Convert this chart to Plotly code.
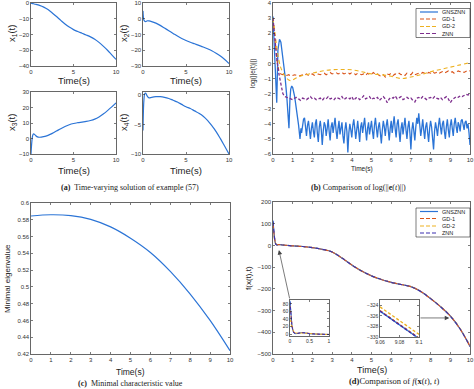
import numpy as np
import plotly.graph_objects as go

# ---------------- DATA ----------------
# Panel (a): time-varying solution components
ta = [0, 0.1, 0.2, 0.3, 0.5, 0.7, 1, 1.5, 2, 2.5, 3, 3.5, 4, 4.5, 5, 5.5, 6, 6.5, 7, 7.5, 8, 8.5, 9, 9.5, 10]
x1 = [0, -0.2, -0.4, -0.5, -0.8, -1.0, -1.5, -2.6, -4.2, -6.3, -8.6, -11.0, -13.3, -15.3, -16.9, -18.1, -19.2, -20.3, -21.5, -23.0, -25.0, -27.4, -30.0, -32.9, -35.8]
x2 = [5.0, -0.8, -1.6, -1.8, -1.3, -1.4, -1.8, -2.8, -4.2, -5.9, -7.6, -9.3, -11.0, -12.5, -13.8, -14.9, -15.9, -16.9, -17.9, -19.0, -20.3, -21.9, -23.7, -25.9, -28.4]
x3 = [-10.0, -2.0, 2.0, 3.0, 2.2, 1.2, 0.8, 1.2, 2.0, 3.3, 4.8, 6.3, 7.7, 8.9, 9.7, 10.2, 10.6, 11.0, 11.6, 12.5, 13.9, 15.8, 18.0, 20.4, 23.0]
x4 = [-6.0, -1.0, 0.2, 0.3, -0.2, -0.5, -0.4, -0.3, -0.3, -0.4, -0.6, -0.9, -1.2, -1.6, -2.0, -2.3, -2.7, -3.1, -3.6, -4.3, -5.2, -6.2, -7.4, -8.7, -10.0]

# Panel (b): log(||e(t)||)
tb_g0 = [0, 0.05, 0.1, 0.15, 0.19, 0.25, 0.33, 0.4, 0.5, 0.6, 0.7, 0.81, 0.86, 0.9, 0.95, 1.0, 1.1, 1.2, 1.3, 1.37, 1.42]
gn_0 = [3.1, 1.6, -0.4, -2.0, -2.6, 0.9, 1.6, 1.4, 0.5, -0.7, -2.2, -4.3, -2.4, -1.7, -1.5, -1.6, -2.2, -3.0, -4.1, -5.0, -4.3]
gn_noise = [-4.6, -4.0, -3.7, -3.6, -4.2, -4.8, -4.1, -3.8, -4.4, -5.0, -4.3,
            -3.9, -4.5, -4.9, -4.0, -3.7, -4.6, -5.2, -4.2, -3.8, -4.4, -5.4, -4.5, -3.9, -4.1, -4.8, -4.3, -3.7, -4.5, -5.1, -4.2,
            -3.9, -4.6, -4.1, -3.6, -4.4, -5.0, -4.3, -3.8, -4.7, -4.2, -3.9, -4.8, -5.3, -4.4, -3.9, -4.5, -5.9, -4.6, -4.0, -4.4,
            -4.9, -4.1, -3.7, -4.3, -5.0, -4.4, -3.8, -4.5, -5.2, -4.2, -3.9, -4.6, -4.0, -3.6, -4.4, -5.1, -4.3, -3.9, -4.7, -4.2,
            -3.8, -4.5, -5.0, -4.1, -3.6, -4.3, -4.9, -4.2, -3.9, -4.6, -5.3, -4.4, -3.8, -4.2, -4.8, -4.1, -3.7, -4.4, -5.1, -4.3,
            -3.8, -4.6, -4.1, -3.5, -4.3, -4.9, -4.0, -3.7, -4.5, -5.2, -4.3, -3.9, -4.7, -4.1, -3.6, -4.4, -5.0, -4.2, -3.8, -4.6,
            -5.7, -4.4, -3.9, -4.5, -5.1, -4.2, -3.6, -4.0, -3.3, -4.1, -4.8, -4.3, -3.7, -4.4, -5.0, -4.2, -3.9, -4.6, -5.2, -4.3,
            -3.8, -4.2, -4.9, -5.7, -4.5, -3.9, -4.3, -4.8, -4.1, -3.6, -4.2, -4.7, -4.0, -3.8, -4.5, -5.0, -4.2, -3.7, -4.4, -4.9,
            -4.1, -3.7, -4.3, -4.8, -4.0, -3.6, -4.2, -4.6, -3.9, -4.1, -4.5, -3.8, -3.7, -4.2, -4.4, -3.9, -3.8, -4.3, -4.0, -4.6, -5.4]

tb_z0 = [0, 0.1, 0.2, 0.3, 0.4, 0.5, 0.6, 0.7, 0.8]
znn_0 = [3.0, 1.5, 0.2, -0.7, -1.5, -2.0, -2.2, -2.25, -2.3]
znn_noise = [-2.35, -2.4, -2.3, -2.25, -2.35, -2.45, -2.3, -2.35, -2.4, -2.3,
             -2.2, -2.35, -2.3, -2.4, -2.35, -2.3, -2.45, -2.3, -2.35, -2.2,
             -2.35, -2.3, -2.4, -2.25, -2.3, -2.35, -2.2, -2.4, -2.3, -2.25,
             -2.35, -2.2, -2.45, -2.3, -2.25, -2.4, -2.3, -2.15, -2.35, -2.3,
             -2.2, -2.4, -2.3, -2.35, -2.25, -2.45, -2.3, -2.2, -2.35, -2.6,
             -2.35, -2.25, -2.3, -2.15, -2.35, -2.3, -2.2, -2.4, -2.3, -2.25,
             -2.35, -2.3, -2.45, -2.55, -2.3, -2.25, -2.35, -2.2, -2.3, -2.4,
             -2.3, -2.25, -2.35, -2.2, -2.3, -2.35, -2.25, -2.4, -2.3, -2.2,
             -2.35, -2.6, -2.4, -2.3, -2.2, -2.25, -2.15, -2.2, -2.1, -2.05,
             -2.1, -2.0]

tb_d0 = [0, 0.1, 0.2, 0.3, 0.4]
gd1_0 = [3.0, 1.5, 0.2, -0.5, -0.7]
gd1_noise = [-0.75, -0.7, -0.8, -0.75, -0.85, -0.8, -0.75, -0.8, -0.85, -0.8,
             -0.75, -0.8, -0.7, -0.8, -0.75, -0.7, -0.8, -0.75, -0.7, -0.75,
             -0.7, -0.65, -0.75, -0.7, -0.6, -0.7, -0.65, -0.6, -0.7, -0.65,
             -0.6, -0.7, -0.65, -0.6, -0.7, -0.6, -0.65, -0.75, -0.65, -0.7,
             -0.75, -0.7, -0.8, -0.65, -0.75, -0.7, -0.6, -0.75, -0.7, -0.8,
             -0.85, -0.75, -0.9, -0.7, -0.75, -0.65, -0.8, -0.7, -0.75, -0.65,
             -0.75, -0.7, -0.8, -0.65, -0.7, -0.75, -0.6, -0.75, -0.7, -0.65,
             -0.7, -0.6, -0.65, -0.7, -0.6, -0.65, -0.55, -0.65, -0.6, -0.7,
             -0.6, -0.55, -0.65, -0.6, -0.5, -0.6, -0.55, -0.65, -0.55, -0.5,
             -0.55, -0.5, -0.6, -0.5, -0.45, -0.5]

tb_gd2 = [0, 0.1, 0.2, 0.3, 0.4, 0.5, 0.6, 0.7, 0.8, 0.9, 1.0, 1.2, 1.5, 2, 2.5, 3, 3.5, 4, 4.5, 5, 5.5, 6, 6.5, 7, 7.5, 8, 8.5, 9, 9.5, 10]
gd2 = [3.0, 2.0, 1.0, 0.2, -0.3, -0.6, -0.85, -1.0, -1.1, -1.15, -1.1, -0.95, -0.8, -0.65, -0.5, -0.42, -0.4, -0.42, -0.55, -0.7, -0.75, -0.85, -1.0, -0.9, -0.75, -0.55, -0.4, -0.25, -0.1, 0.05]

# Panel (c): minimal eigenvalue
tc = [0, 1, 2, 3, 4, 5, 6, 7, 8, 9, 10]
eig = [0.5845, 0.586, 0.585, 0.5805, 0.5715, 0.558, 0.541, 0.5185, 0.4915, 0.46, 0.424]

# Panel (d): f(x(t),t)
td = [0, 0.05, 0.1, 0.15, 0.2, 0.3, 0.5, 1, 1.5, 2, 2.5, 3, 3.5, 4, 4.5, 5, 5.5, 6, 6.5, 7, 7.5, 8, 8.5, 9, 9.5, 10]
f_gnszNN = [115, 60, 20, 5, 2, 4, 2, -2, -5, -10, -18, -30, -58, -90, -118, -140, -157, -170, -180, -190, -212, -245, -282, -325, -385, -465]
f_gd1 = [100, 55, 22, 6, 3, 4, 2, -2, -5, -10, -18, -30, -58, -90, -118, -140, -157, -170, -180, -190, -212, -245, -282, -325, -385, -465]
f_gd2 = [80, 45, 18, 7, 4, 4, 2, -2, -5, -10, -18, -30, -58, -90, -118, -140, -157, -170, -180, -190, -212, -244, -281, -324, -384, -464]
f_znn = [110, 58, 20, 5, 2, 4, 2, -2, -5, -10, -18, -30, -58, -90, -118, -140, -157, -170, -180, -190, -212, -245, -282, -325, -385, -465]

# Inset 1 (zoom on t in [0,1])
ti1 = [0, 0.02, 0.05, 0.08, 0.1, 0.15, 0.2, 0.3, 0.4, 0.5, 0.7, 1.0]
i1_gnszNN = [88, 55, 22, 8, 3, 1, 2, 4, 3, 1, 0, -1]
i1_gd1 = [75, 50, 25, 10, 5, 2, 2, 4, 3, 1, 0, -1]
i1_gd2 = [40, 30, 18, 10, 6, 3, 2, 3, 2, 1, 0, -1]
i1_znn = [85, 52, 20, 7, 3, 1, 2, 4, 3, 1, 0, -1]

# Inset 2 (zoom on t in [9.06, 9.1])
ti2 = [9.06, 9.1]
i2_gnszNN = [-325.1, -330.3]
i2_gd1 = [-325.0, -330.2]
i2_gd2 = [-324.3, -329.5]
i2_znn = [-325.1, -330.3]

legend_names = ['GNSZNN', 'GD-1', 'GD-2', 'ZNN']

# ---------------- STYLE ----------------
W, H = 474, 389
BLUE = '#2b74d6'
RED = '#D95319'
ORANGE = '#EDB120'
PURPLE = '#7E2F8E'
NAVY = '#3a2fb0'
AX = '#262626'
SANS = 'Liberation Sans, Arial, sans-serif'
SERIF = 'Liberation Serif, Times New Roman, serif'


def px(x0, x1):
    return [x0 / W, x1 / W]


def py(ytop, ybot):
    return [1 - ybot / H, 1 - ytop / H]


def axstyle(domain, rng, tickvals, ticktext=None, size=6.5, anchor=None):
    d = dict(domain=domain, range=rng, tickvals=tickvals, showline=True, linecolor=AX,
             linewidth=0.7, mirror='ticks', ticks='inside', ticklen=2, tickwidth=0.6,
             tickcolor=AX, showgrid=False, zeroline=False, automargin=False,
             tickfont=dict(family=SANS, size=size, color='#333333'), anchor=anchor)
    if ticktext is not None:
        d['ticktext'] = ticktext
    return d


fig = go.Figure()

# ---- panel a ----
for i, yy in enumerate([x1, x2, x3, x4]):
    n = i + 1
    fig.add_trace(go.Scatter(x=ta, y=yy, mode='lines', line=dict(color=BLUE, width=1.2, shape='spline'),
                             xaxis='x%d' % n, yaxis='y%d' % n, showlegend=False))

# ---- panel b ----
tb_g = list(tb_g0) + list(np.linspace(1.45, 10, len(gn_noise)))
gn = gn_0 + gn_noise
tb_z = list(tb_z0) + list(np.linspace(0.9, 10, len(znn_noise)))
zn = znn_0 + znn_noise
tb_d = list(tb_d0) + list(np.linspace(0.5, 10, len(gd1_noise)))
g1 = gd1_0 + gd1_noise

fig.add_trace(go.Scatter(x=tb_g, y=gn, mode='lines', line=dict(color=BLUE, width=1.3),
                         xaxis='x5', yaxis='y5', showlegend=False))
fig.add_trace(go.Scatter(x=tb_d, y=g1, mode='lines', line=dict(color=RED, width=1.1, dash='4px,3px'),
                         xaxis='x5', yaxis='y5', showlegend=False))
fig.add_trace(go.Scatter(x=tb_gd2, y=gd2, mode='lines', line=dict(color=ORANGE, width=1.1, dash='4px,3px', shape='spline'),
                         xaxis='x5', yaxis='y5', showlegend=False))
fig.add_trace(go.Scatter(x=tb_z, y=zn, mode='lines', line=dict(color=PURPLE, width=1.3, dash='3px,2px'),
                         xaxis='x5', yaxis='y5', showlegend=False))

# ---- panel c ----
fig.add_trace(go.Scatter(x=tc, y=eig, mode='lines', line=dict(color=BLUE, width=1.2, shape='spline'),
                         xaxis='x6', yaxis='y6', showlegend=False))

# ---- panel d ----
for yy, col, dash in [(f_gnszNN, BLUE, 'solid'), (f_gd1, RED, '4px,3px'),
                      (f_gd2, ORANGE, '4px,3px'), (f_znn, NAVY, '4px,3px')]:
    fig.add_trace(go.Scatter(x=td, y=yy, mode='lines', line=dict(color=col, width=1.2, dash=dash, shape='spline'),
                             xaxis='x7', yaxis='y7', showlegend=False))
for yy, col, dash in [(i1_gnszNN, BLUE, 'solid'), (i1_gd1, RED, '3px,2px'), (i1_gd2, ORANGE, '3px,2px'), (i1_znn, NAVY, '3px,2px')]:
    fig.add_trace(go.Scatter(x=ti1, y=yy, mode='lines', line=dict(color=col, width=1.0, dash=dash),
                             xaxis='x8', yaxis='y8', showlegend=False))
for yy, col, dash in [(i2_gnszNN, BLUE, 'solid'), (i2_gd1, RED, '3px,2px'), (i2_gd2, ORANGE, '3px,2px'), (i2_znn, NAVY, '3px,2px')]:
    fig.add_trace(go.Scatter(x=ti2, y=yy, mode='lines', line=dict(color=col, width=1.3, dash=dash),
                             xaxis='x9', yaxis='y9', showlegend=False))

# ---------------- LAYOUT ----------------
xa = px(31, 116)
xb = px(143, 229)
ya_top = py(3, 66)
ya_bot = py(92, 154)
lay = dict(width=W, height=H, margin=dict(l=0, r=0, t=0, b=0, autoexpand=False),
           paper_bgcolor='white', plot_bgcolor='white', showlegend=False)
lay['xaxis'] = axstyle(xa, [0, 10], [0, 5, 10], size=6, anchor='y')
lay['yaxis'] = axstyle(ya_top, [-40, 0], [-40, -30, -20, -10, 0], size=6, anchor='x')
lay['xaxis2'] = axstyle(xb, [0, 10], [0, 5, 10], size=6, anchor='y2')
lay['yaxis2'] = axstyle(ya_top, [-30, 10], [-30, -20, -10, 0, 10], size=6, anchor='x2')
lay['xaxis3'] = axstyle(xa, [0, 10], [0, 5, 10], size=6, anchor='y3')
lay['yaxis3'] = axstyle(ya_bot, [-10, 30], [-10, 0, 10, 20, 30], size=6, anchor='x3')
lay['xaxis4'] = axstyle(xb, [0, 10], [0, 5, 10], size=6, anchor='y4')
lay['yaxis4'] = axstyle(ya_bot, [-10, 0.5], [-10, -5, 0], size=6, anchor='x4')

lay['xaxis5'] = axstyle(px(273, 470), [0, 10], list(range(11)), size=6, anchor='y5')
lay['yaxis5'] = axstyle(py(3, 154), [-6, 4], list(range(-6, 5)), size=6, anchor='x5')

lay['xaxis6'] = axstyle(px(31, 230), [0, 10], list(range(11)), size=6, anchor='y6')
ctv = [0.42, 0.44, 0.46, 0.48, 0.5, 0.52, 0.54, 0.56, 0.58, 0.6]
lay['yaxis6'] = axstyle(py(203, 354), [0.42, 0.6], ctv, ticktext=['0.42', '0.44', '0.46', '0.48', '0.5', '0.52', '0.54', '0.56', '0.58', '0.6'], size=6, anchor='x6')

lay['xaxis7'] = axstyle(px(273, 470), [0, 10], list(range(11)), size=6, anchor='y7')
lay['yaxis7'] = axstyle(py(202, 354), [-500, 200], list(range(-500, 201, 100)), size=6, anchor='x7')

lay['xaxis8'] = axstyle(px(290, 329), [0, 1], [0, 0.5, 1], size=5, anchor='y8')
lay['yaxis8'] = axstyle(py(300, 336), [-5, 90], [0, 20, 40, 60, 80], size=5, anchor='x8')
lay['xaxis9'] = axstyle(px(380, 419), [9.06, 9.1], [9.06, 9.08, 9.1], size=5, anchor='y9')
lay['yaxis9'] = axstyle(py(300, 337), [-330, -323], [-330, -328, -326, -324], size=5, anchor='x9')

ann = []
shapes = []


def txt(x, y, s, size, family=SANS, angle=0, color='#222', xanchor='center'):
    ann.append(dict(x=x / W, y=1 - y / H, xref='paper', yref='paper', text=s, showarrow=False,
                    textangle=angle, font=dict(family=family, size=size, color=color),
                    xanchor=xanchor, yanchor='middle'))


# manual legends (compact, MATLAB-like)
def legend_box(top, rows, colors, dashes):
    shapes.append(dict(type='rect', xref='paper', yref='paper', x0=416 / W, x1=470 / W,
                       y0=1 - (top + 29) / H, y1=1 - top / H, line=dict(color=AX, width=0.6), fillcolor='white',
                       layer='above'))
    for k, (name, col, dsh) in enumerate(zip(legend_names, colors, dashes)):
        yy = top + rows[k]
        shapes.append(dict(type='line', xref='paper', yref='paper', x0=420 / W, x1=438 / W,
                           y0=1 - yy / H, y1=1 - yy / H, line=dict(color=col, width=1.2, dash=dsh), layer='above'))
        txt(440, yy, name, 5.5, xanchor='left')


legend_box(8.5, [3.5, 10.5, 18, 25], [BLUE, RED, ORANGE, PURPLE], ['solid', '4px,2px', '4px,2px', '4px,2px'])
legend_box(208, [3.5, 10.5, 18, 25], [BLUE, RED, ORANGE, NAVY], ['solid', '4px,2px', '4px,2px', '4px,2px'])

# panel a labels
for (cx, cy) in [(74, 81), (186, 81), (74, 170), (186, 170)]:
    txt(cx, cy, 'Time(s)', 9.5)
txt(12, 34, 'x<sub>1</sub>(t)', 9.5, angle=-90)
txt(124, 34, 'x<sub>2</sub>(t)', 9.5, angle=-90)
txt(12, 123, 'x<sub>3</sub>(t)', 9.5, angle=-90)
txt(124, 123, 'x<sub>4</sub>(t)', 9.5, angle=-90)
txt(130, 187, '<b>(a)</b>  Time-varying solution of example (57)', 8, family=SERIF)
# panel b labels
txt(362, 169, 'Time(s)', 6.5)
txt(253, 73, 'log(||e(t)||)', 6.5, angle=-90)
txt(358, 187, '<b>(b)</b> Comparison of log(||<b>e</b>(<i>t</i>)||)', 8, family=SERIF)
# panel c labels
txt(130, 372, 'Time(s)', 8.5)
txt(7, 279, 'Minimal eigenvalue', 8, angle=-90)
txt(130, 383, '<b>(c)</b>  Minimal characteristic value', 8, family=SERIF)
# panel d labels
txt(372, 370, 'Time(s)', 9)
txt(248, 278, 'f(x(t),t)', 8, angle=-90)
txt(394, 381, '<b>(d)</b>Comparison of <i>f</i>(<b>x</b>(<i>t</i>), <i>t</i>)', 8.5, family=SERIF)

# arrows in panel d
ann.append(dict(x=0.3, y=-21, ax=0.86, ay=-251, xref='x7', yref='y7', axref='x7', ayref='y7', text='',
                showarrow=True, arrowhead=2, arrowsize=1.3, arrowwidth=0.7, arrowcolor='#444'))
ann.append(dict(x=8.95, y=-334, ax=7.41, ay=-334, xref='x7', yref='y7', axref='x7', ayref='y7', text='',
                showarrow=True, arrowhead=2, arrowsize=1.3, arrowwidth=0.7, arrowcolor='#444'))
lay['annotations'] = ann
lay['shapes'] = shapes

fig.update_layout(**lay)
fig.write_html('out.html', config={'displayModeBar': False, 'staticPlot': True},
               post_script="document.body.style.margin='0px';document.body.style.overflow='hidden';")
